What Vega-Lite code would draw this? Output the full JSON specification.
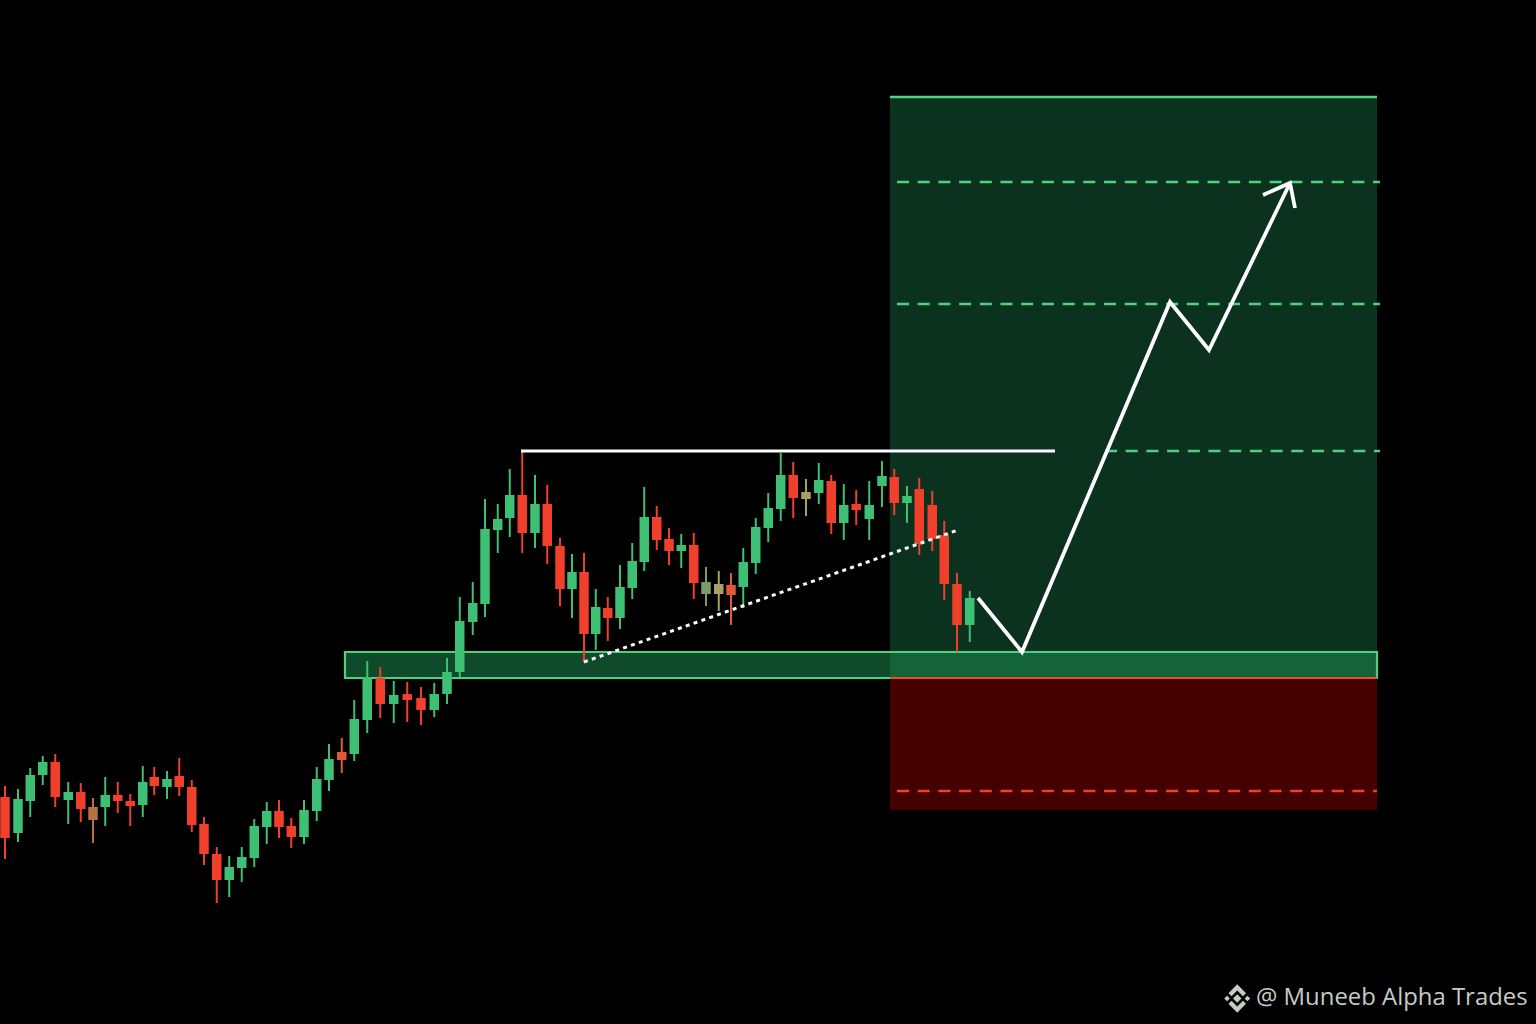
{
  "$schema": "https://vega.github.io/schema/vega-lite/v6.json",
  "autosize": {"type": "fit", "contains": "padding"},
  "width": 1536,
  "height": 1024,
  "padding": 0,
  "background": "#000000",
  "config": {"view": {"stroke": null}},
  "datasets": {
    "candles": [
      {"bar":0,"high":23.8,"open":22.7,"close":18.6,"low":16.5,"state":"down"},
      {"bar":1.04,"high":23.5,"open":19.1,"close":22.5,"low":18.2,"state":"up"},
      {"bar":2.02,"high":25.6,"open":22.3,"close":24.9,"low":20.7,"state":"up"},
      {"bar":3.02,"high":26.8,"open":24.9,"close":26.2,"low":23.9,"state":"up"},
      {"bar":4.02,"high":27.0,"open":26.2,"close":22.7,"low":21.7,"state":"down"},
      {"bar":5.06,"high":24.2,"open":22.4,"close":23.2,"low":20.0,"state":"up"},
      {"bar":6.06,"high":24.1,"open":23.2,"close":21.5,"low":20.2,"state":"down"},
      {"bar":7.04,"high":22.6,"open":21.7,"close":20.4,"low":18.1,"state":"rust"},
      {"bar":8.02,"high":24.7,"open":21.7,"close":22.9,"low":19.8,"state":"up"},
      {"bar":9.02,"high":24.2,"open":22.9,"close":22.3,"low":21.1,"state":"down"},
      {"bar":10.02,"high":23.0,"open":22.3,"close":21.8,"low":19.8,"state":"down"},
      {"bar":11.02,"high":25.8,"open":21.9,"close":24.2,"low":20.7,"state":"up"},
      {"bar":11.94,"high":25.7,"open":24.7,"close":23.8,"low":22.9,"state":"down"},
      {"bar":12.96,"high":25.3,"open":23.7,"close":24.5,"low":22.5,"state":"up"},
      {"bar":13.94,"high":26.6,"open":24.8,"close":23.7,"low":22.8,"state":"down"},
      {"bar":14.94,"high":24.4,"open":23.7,"close":19.9,"low":19.2,"state":"down"},
      {"bar":15.92,"high":20.7,"open":20.0,"close":17.0,"low":15.9,"state":"down"},
      {"bar":16.94,"high":17.7,"open":17.0,"close":14.4,"low":12.1,"state":"down"},
      {"bar":17.94,"high":16.8,"open":14.4,"close":15.7,"low":12.7,"state":"up"},
      {"bar":18.94,"high":17.7,"open":15.6,"close":16.7,"low":14.2,"state":"up"},
      {"bar":19.94,"high":20.5,"open":16.6,"close":19.8,"low":15.7,"state":"up"},
      {"bar":20.94,"high":22.2,"open":19.7,"close":21.3,"low":18.0,"state":"up"},
      {"bar":21.92,"high":22.4,"open":21.3,"close":19.7,"low":18.6,"state":"down"},
      {"bar":22.9,"high":20.6,"open":19.8,"close":18.7,"low":17.6,"state":"down"},
      {"bar":23.92,"high":22.4,"open":18.7,"close":21.4,"low":18.0,"state":"up"},
      {"bar":24.94,"high":25.7,"open":21.3,"close":24.5,"low":20.3,"state":"up"},
      {"bar":25.92,"high":28.0,"open":24.4,"close":26.5,"low":23.3,"state":"up"},
      {"bar":26.94,"high":28.6,"open":27.2,"close":26.4,"low":25.1,"state":"coral"},
      {"bar":27.94,"high":32.4,"open":27.0,"close":30.5,"low":26.3,"state":"up"},
      {"bar":28.98,"high":36.3,"open":30.4,"close":34.7,"low":29.1,"state":"up"},
      {"bar":30.02,"high":35.7,"open":34.6,"close":32.0,"low":30.6,"state":"down"},
      {"bar":31.1,"high":34.3,"open":32.0,"close":32.9,"low":30.1,"state":"up"},
      {"bar":32.18,"high":34.2,"open":33.0,"close":32.4,"low":30.2,"state":"down"},
      {"bar":33.28,"high":33.7,"open":32.6,"close":31.4,"low":29.9,"state":"down"},
      {"bar":34.34,"high":34.1,"open":31.4,"close":33.0,"low":30.7,"state":"up"},
      {"bar":35.36,"high":36.6,"open":33.0,"close":35.2,"low":32.0,"state":"up"},
      {"bar":36.38,"high":42.7,"open":35.2,"close":40.3,"low":34.7,"state":"up"},
      {"bar":37.42,"high":44.2,"open":40.2,"close":42.1,"low":38.9,"state":"up"},
      {"bar":38.4,"high":52.5,"open":42.0,"close":49.5,"low":40.7,"state":"up"},
      {"bar":39.42,"high":52.0,"open":49.4,"close":50.5,"low":47.1,"state":"up"},
      {"bar":40.38,"high":55.5,"open":50.6,"close":52.9,"low":48.7,"state":"up"},
      {"bar":41.38,"high":57.2,"open":52.9,"close":49.1,"low":47.1,"state":"down"},
      {"bar":42.4,"high":54.9,"open":49.1,"close":52.0,"low":47.6,"state":"up"},
      {"bar":43.38,"high":53.9,"open":52.0,"close":47.8,"low":46.0,"state":"down"},
      {"bar":44.4,"high":48.6,"open":47.8,"close":43.5,"low":41.8,"state":"down"},
      {"bar":45.36,"high":47.0,"open":43.5,"close":45.2,"low":40.6,"state":"up"},
      {"bar":46.32,"high":47.1,"open":45.2,"close":39.0,"low":36.2,"state":"down"},
      {"bar":47.26,"high":43.5,"open":39.0,"close":41.7,"low":37.4,"state":"up"},
      {"bar":48.22,"high":42.7,"open":41.6,"close":40.6,"low":38.3,"state":"down"},
      {"bar":49.2,"high":45.9,"open":40.6,"close":43.7,"low":39.5,"state":"up"},
      {"bar":50.18,"high":48.1,"open":43.6,"close":46.3,"low":42.5,"state":"up"},
      {"bar":51.14,"high":53.7,"open":46.2,"close":50.7,"low":45.3,"state":"up"},
      {"bar":52.14,"high":51.8,"open":50.7,"close":48.4,"low":47.4,"state":"down"},
      {"bar":53.12,"high":49.6,"open":48.5,"close":47.3,"low":45.9,"state":"down"},
      {"bar":54.1,"high":49.0,"open":47.3,"close":47.9,"low":45.6,"state":"up"},
      {"bar":55.1,"high":49.1,"open":47.9,"close":44.1,"low":42.5,"state":"down"},
      {"bar":56.08,"high":45.7,"open":43.0,"close":44.2,"low":41.8,"state":"sage"},
      {"bar":57.1,"high":45.3,"open":43.0,"close":44.0,"low":41.3,"state":"tan"},
      {"bar":58.08,"high":45.1,"open":43.9,"close":42.9,"low":39.9,"state":"coral"},
      {"bar":59.06,"high":47.6,"open":43.7,"close":46.2,"low":41.6,"state":"up"},
      {"bar":60.06,"high":50.6,"open":46.1,"close":49.7,"low":45.0,"state":"up"},
      {"bar":61.06,"high":53.1,"open":49.6,"close":51.6,"low":48.2,"state":"up"},
      {"bar":62.06,"high":57.1,"open":51.5,"close":54.9,"low":50.3,"state":"up"},
      {"bar":63.06,"high":56.2,"open":54.9,"close":52.6,"low":50.6,"state":"down"},
      {"bar":64.08,"high":54.5,"open":52.5,"close":53.2,"low":50.8,"state":"tan"},
      {"bar":65.1,"high":56.1,"open":53.1,"close":54.4,"low":52.0,"state":"up"},
      {"bar":66.1,"high":54.9,"open":54.3,"close":50.1,"low":49.0,"state":"down"},
      {"bar":67.1,"high":54.0,"open":50.1,"close":51.9,"low":48.4,"state":"up"},
      {"bar":68.1,"high":53.4,"open":52.0,"close":51.4,"low":49.9,"state":"down"},
      {"bar":69.14,"high":54.3,"open":50.5,"close":51.9,"low":48.4,"state":"up"},
      {"bar":70.16,"high":56.3,"open":53.8,"close":54.8,"low":51.7,"state":"up"},
      {"bar":71.14,"high":55.5,"open":54.7,"close":52.1,"low":50.9,"state":"down"},
      {"bar":72.16,"high":53.8,"open":52.1,"close":52.8,"low":50.1,"state":"up"},
      {"bar":73.14,"high":54.6,"open":53.5,"close":48.0,"low":46.9,"state":"down"},
      {"bar":74.18,"high":53.3,"open":51.9,"close":48.5,"low":47.3,"state":"down"},
      {"bar":75.14,"high":50.3,"open":48.9,"close":44.0,"low":42.4,"state":"down"},
      {"bar":76.16,"high":45.1,"open":44.0,"close":39.9,"low":37.2,"state":"down"},
      {"bar":77.18,"high":43.3,"open":39.9,"close":42.6,"low":38.2,"state":"up"}
    ],
    "levels": [
      {"name":"target 1","from":88,"to":110,"price":57.3},
      {"name":"target 2","from":71.36,"to":110,"price":72.0},
      {"name":"target 3","from":71.36,"to":110,"price":84.2}
    ],
    "projection": [
      {"seq":1,"bar":77.84,"price":42.6},
      {"seq":2,"bar":81.36,"price":37.2},
      {"seq":3,"bar":93.2,"price":72.2},
      {"seq":4,"bar":96.32,"price":67.4},
      {"seq":5,"bar":102.8,"price":84.1}
    ],
    "arrowhead": [
      {"seq":1,"bar":100.64,"price":82.9},
      {"seq":2,"bar":102.8,"price":84.1},
      {"seq":3,"bar":103.2,"price":81.6}
    ],
    "trendline": [
      {"seq":1,"bar":46.32,"price":36.2},
      {"seq":2,"bar":76.24,"price":49.4}
    ]
  },
  "data": {"name": "candles"},
  "layer": [
    {
      "data": {"values": [{"from":70.8,"to":109.76,"top":92.7,"bottom":34.6}]},
      "mark": {"type": "rect", "color": "#0a321f"},
      "encoding": {
        "x": {"field": "from", "type": "quantitative", "scale": {"domain": [-0.4, 122.48], "nice": false, "zero": false, "padding": 0}, "axis": null},
        "x2": {"field": "to"},
        "y": {"field": "top", "type": "quantitative", "scale": {"domain": [0, 102.4], "nice": false, "zero": false, "padding": 0}, "axis": null},
        "y2": {"field": "bottom"}
      }
    },
    {
      "data": {"values": [{"from":70.8,"to":109.76,"top":34.6,"bottom":21.4}]},
      "mark": {"type": "rect", "color": "#450000"},
      "encoding": {
        "x": {"field": "from", "type": "quantitative"},
        "x2": {"field": "to"},
        "y": {"field": "top", "type": "quantitative"},
        "y2": {"field": "bottom"}
      }
    },
    {
      "data": {"values": [{"from":70.8,"to":109.76,"price":92.7}]},
      "mark": {"type": "rule", "color": "#4fd27f", "strokeWidth": 2.5},
      "encoding": {
        "x": {"field": "from", "type": "quantitative"},
        "x2": {"field": "to"},
        "y": {"field": "price", "type": "quantitative"}
      }
    },
    {
      "data": {"name": "levels"},
      "mark": {"type": "rule", "color": "#4fd27f", "strokeWidth": 2.5, "strokeDash": [12, 8.7]},
      "encoding": {
        "x": {"field": "from", "type": "quantitative"},
        "x2": {"field": "to"},
        "y": {"field": "price", "type": "quantitative"}
      }
    },
    {
      "data": {"values": [{"from":71.36,"to":109.76,"price":23.3}]},
      "mark": {"type": "rule", "color": "#f0402b", "strokeWidth": 2.5, "strokeDash": [12, 8.7]},
      "encoding": {
        "x": {"field": "from", "type": "quantitative"},
        "x2": {"field": "to"},
        "y": {"field": "price", "type": "quantitative"}
      }
    },
    {
      "data": {"values": [{"from":27.2,"to":109.76,"top":37.2,"bottom":34.6}]},
      "mark": {"type": "rect", "color": "#1e9654", "fillOpacity": 0.5, "stroke": "#4fd27f", "strokeWidth": 2.2},
      "encoding": {
        "x": {"field": "from", "type": "quantitative"},
        "x2": {"field": "to"},
        "y": {"field": "top", "type": "quantitative"},
        "y2": {"field": "bottom"}
      }
    },
    {
      "data": {"values": [{"from":70.8,"to":109.76,"price":34.6}]},
      "mark": {"type": "rule", "color": "#e8502f", "strokeWidth": 2},
      "encoding": {
        "x": {"field": "from", "type": "quantitative"},
        "x2": {"field": "to"},
        "y": {"field": "price", "type": "quantitative"}
      }
    },
    {
      "mark": {"type": "rule", "strokeWidth": 2},
      "encoding": {
        "x": {"field": "bar", "type": "quantitative"},
        "y": {"field": "high", "type": "quantitative"},
        "y2": {"field": "low"},
        "color": {
          "field": "state",
          "type": "nominal",
          "legend": null,
          "scale": {
            "domain": ["up", "down", "rust", "coral", "sage", "tan"],
            "range": ["#3dbf74", "#f0402b", "#b5713f", "#e4583a", "#7f9a66", "#a9a065"]
          }
        }
      }
    },
    {
      "mark": {"type": "bar", "size": 9.5, "cornerRadius": 0},
      "encoding": {
        "x": {"field": "bar", "type": "quantitative"},
        "y": {"field": "open", "type": "quantitative"},
        "y2": {"field": "close"},
        "color": {"field": "state", "type": "nominal", "legend": null}
      }
    },
    {
      "data": {"name": "trendline"},
      "mark": {"type": "line", "color": "#ffffff", "strokeWidth": 3, "strokeDash": [4, 4.3]},
      "encoding": {
        "x": {"field": "bar", "type": "quantitative"},
        "y": {"field": "price", "type": "quantitative"},
        "order": {"field": "seq"}
      }
    },
    {
      "data": {"values": [{"from":41.28,"to":84,"price":57.3}]},
      "mark": {"type": "rule", "color": "#ffffff", "strokeWidth": 2.8},
      "encoding": {
        "x": {"field": "from", "type": "quantitative"},
        "x2": {"field": "to"},
        "y": {"field": "price", "type": "quantitative"}
      }
    },
    {
      "data": {"name": "projection"},
      "mark": {"type": "line", "color": "#ffffff", "strokeWidth": 3.8, "strokeJoin": "miter"},
      "encoding": {
        "x": {"field": "bar", "type": "quantitative"},
        "y": {"field": "price", "type": "quantitative"},
        "order": {"field": "seq"}
      }
    },
    {
      "data": {"name": "arrowhead"},
      "mark": {"type": "line", "color": "#ffffff", "strokeWidth": 3.8, "strokeJoin": "miter"},
      "encoding": {
        "x": {"field": "bar", "type": "quantitative"},
        "y": {"field": "price", "type": "quantitative"},
        "order": {"field": "seq"}
      }
    },
    {
      "data": {"values": [{"bar":98.58,"price":2.55}]},
      "mark": {
        "type": "point",
        "filled": true,
        "opacity": 1,
        "color": "#c5ccc5",
        "size": 800,
        "shape": "M0 -0.3L0.3 0L0 0.3L-0.3 0ZM-0.72 -0.2L-0.52 0L-0.72 0.2L-0.92 0ZM0.72 -0.2L0.92 0L0.72 0.2L0.52 0ZM0 -1L0.62 -0.38L0.4 -0.16L0 -0.56L-0.4 -0.16L-0.62 -0.38ZM0 1L0.62 0.38L0.4 0.16L0 0.56L-0.4 0.16L-0.62 0.38Z"
      },
      "encoding": {
        "x": {"field": "bar", "type": "quantitative"},
        "y": {"field": "price", "type": "quantitative"}
      }
    },
    {
      "data": {"values": [{"bar":100.08,"price":2.6,"label":"@ Muneeb Alpha Trades"}]},
      "mark": {"type": "text", "align": "left", "baseline": "middle", "font": "Open Sans", "fontSize": 23.9, "color": "#c5ccc5"},
      "encoding": {
        "x": {"field": "bar", "type": "quantitative"},
        "y": {"field": "price", "type": "quantitative"},
        "text": {"field": "label"}
      }
    }
  ]
}
